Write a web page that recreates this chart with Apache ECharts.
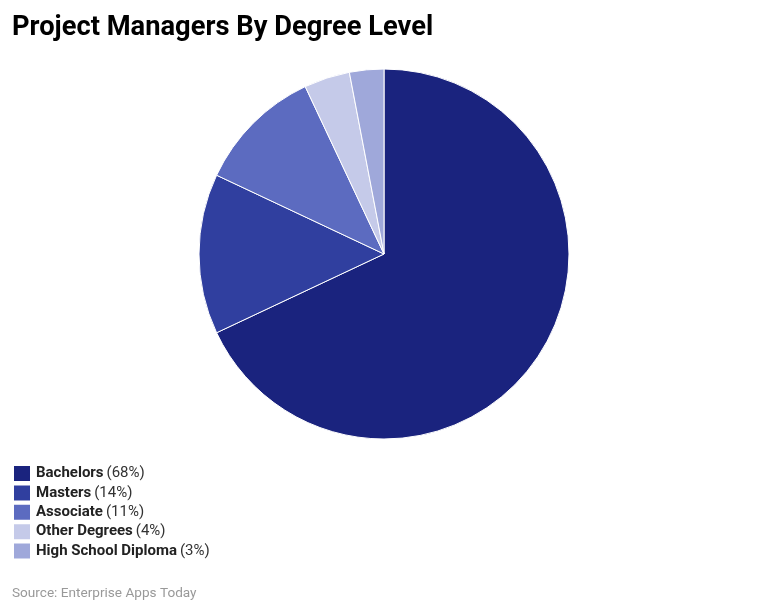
<!DOCTYPE html>
<html>
<head>
<meta charset="utf-8">
<script src="https://cdn.jsdelivr.net/npm/echarts@6/dist/echarts.min.js"></script>
<style>
  html, body { margin: 0; padding: 0; background: #fff; }
  #chart { width: 768px; height: 614px; }
</style>
</head>
<body>
<div id="chart"></div>
<script>
var categories = ['Bachelors', 'Masters', 'Associate', 'Other Degrees', 'High School Diploma'];
var shares = [68, 14, 11, 4, 3];
var colors = ['#1a237e', '#303f9f', '#5c6bc0', '#c5cae9', '#9fa8da'];

var myChart = echarts.init(document.getElementById('chart'));

var pieData = categories.map(function (name, i) {
    return { name: name, value: shares[i], itemStyle: { color: colors[i] } };
});

var option = {
    animation: false,
    title: [
        {
            text: 'Project Managers By Degree Level',
            left: 12,
            top: 15,
            padding: 0,
            textStyle: { fontFamily: 'Roboto', fontSize: 27.3, fontWeight: 'bold', color: '#000' }
        },
        {
            text: 'Source: Enterprise Apps Today',
            left: 12,
            top: 587,
            padding: 0,
            textStyle: { fontFamily: 'Roboto', fontSize: 13.6, fontWeight: 'normal', color: '#999' }
        }
    ],
    legend: {
        orient: 'vertical',
        left: 12,
        top: 464,
        padding: 0,
        itemWidth: 18,
        itemHeight: 17,
        itemGap: 0.4,
        itemTextGap: 6,
        icon: 'rect',
        selectedMode: false,
        formatter: function (name) {
            var i = categories.indexOf(name);
            return '{b|' + name + '} {n|(' + shares[i] + '%)}';
        },
        textStyle: {
            fontFamily: 'Roboto',
            lineHeight: 17,
            rich: {
                b: { fontSize: 15, fontWeight: 'bold', color: '#222', fontFamily: 'Roboto', lineHeight: 17 },
                n: { fontSize: 15, color: '#333', fontFamily: 'Roboto', lineHeight: 17 }
            }
        }
    },
    series: [
        {
            type: 'pie',
            center: [384, 254],
            radius: [0, 185],
            startAngle: 90,
            clockwise: true,
            label: { show: false },
            labelLine: { show: false },
            itemStyle: { borderColor: '#fff', borderWidth: 1 },
            emphasis: { disabled: true },
            data: pieData
        }
    ]
};

myChart.setOption(option);
</script>
</body>
</html>
